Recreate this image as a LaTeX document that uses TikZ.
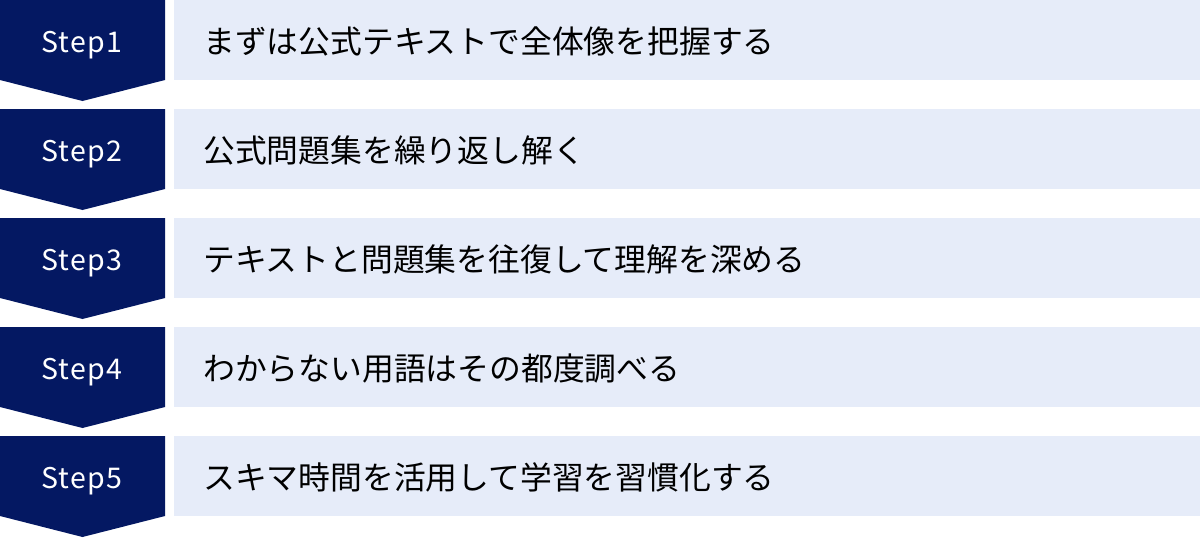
\documentclass[tikz,border=0pt]{standalone}
\usepackage{fontspec}
\newfontfamily\jp{Noto Sans CJK JP}
\newfontfamily\jpspaced[LetterSpace=5]{Noto Sans CJK JP}
\definecolor{navy}{HTML}{041862}
\definecolor{lightbg}{HTML}{E6ECF9}
\tikzset{
  chevron/.style={fill=navy},
  descbox/.style={fill=lightbg, inner sep=0pt, outer sep=0pt, minimum width=1026pt, minimum height=80pt, anchor=north west},
  steplabel/.style={text=white, font=\jpspaced\fontsize{28.5}{28.5}\selectfont, inner sep=0pt, anchor=base west},
  desctext/.style={text=black, font=\jp\fontsize{31.8}{31.8}\selectfont, inner sep=0pt, anchor=base west},
}
\begin{document}
\begin{tikzpicture}[x=1pt,y=-1pt]
\useasboundingbox (0,0) rectangle (1200,538);
\foreach \i/\t in {1/まずは公式テキストで全体像を把握する,2/公式問題集を繰り返し解く,3/テキストと問題集を往復して理解を深める,4/わからない用語はその都度調べる,5/スキマ時間を活用して学習を習慣化する}{
  \pgfmathsetmacro{\top}{(\i-1)*109}
  \fill[chevron] (0,\top) -- (165,\top) -- (165,\top+80) -- (82.5,\top+101) -- (0,\top+80) -- cycle;
  \node[steplabel] (s\i) at (41,\top+52) {Step\i};
  \node[descbox] (b\i) at (174,\top) {};
  \node[desctext] (t\i) at (203,\top+53) {\t};
}
\end{tikzpicture}
\end{document}
